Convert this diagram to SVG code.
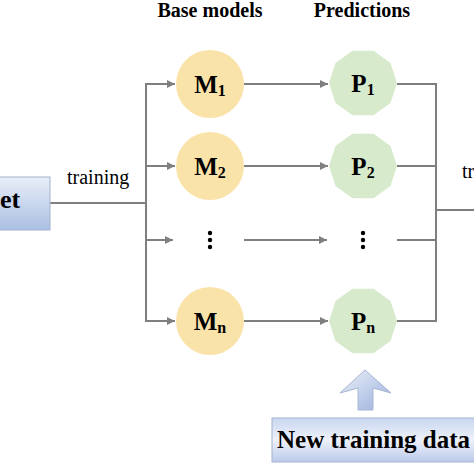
<svg xmlns="http://www.w3.org/2000/svg" width="474" height="474" viewBox="0 0 474 474">
<defs>
<linearGradient id="gBox" x1="0" y1="0" x2="0" y2="1">
<stop offset="0" stop-color="#E9EEF8"/>
<stop offset="1" stop-color="#AABFE4"/>
</linearGradient>
<linearGradient id="gBox2" x1="0" y1="0" x2="0" y2="1">
<stop offset="0" stop-color="#C9D7F0"/>
<stop offset="0.5" stop-color="#EDF1FA"/>
<stop offset="1" stop-color="#BCCBEA"/>
</linearGradient>
<linearGradient id="gArrow" x1="0" y1="0" x2="1" y2="1">
<stop offset="0" stop-color="#EEF2FA"/>
<stop offset="1" stop-color="#97AEDB"/>
</linearGradient>
<marker id="ah" viewBox="0 0 10 10" refX="10" refY="5" markerWidth="4" markerHeight="4" orient="auto" markerUnits="strokeWidth">
<path d="M0,0 L10,5 L0,10 Z" fill="#7F7F7F"/>
</marker>
<style>
.ln{stroke:#7F7F7F;stroke-width:2;fill:none}
.arr{marker-end:url(#ah)}
.m{fill:#FAE3A9}
.p{fill:#D7EACB}
.hd{font-family:"Liberation Serif","Times New Roman",serif;font-weight:bold;font-size:20px;fill:#000}
.lb{font-family:"Liberation Serif","Times New Roman",serif;font-weight:bold;font-size:25px;fill:#000}
.sb{font-size:16px}
.rg{font-family:"Liberation Serif","Times New Roman",serif;font-size:20px;fill:#000}
.dot{fill:#000}
</style>
</defs>
<rect width="474" height="474" fill="#FFFFFF"/>

<g id="headers">
<text class="hd" x="210" y="17" text-anchor="middle">Base models</text>
<text class="hd" x="362" y="17" text-anchor="middle">Predictions</text>
</g>

<g id="connectors">
<line class="ln" x1="50" y1="203" x2="146" y2="203"/>
<line class="ln" x1="146" y1="83" x2="146" y2="322"/>
<line class="ln arr" x1="145" y1="84" x2="175" y2="84"/>
<line class="ln arr" x1="145" y1="166" x2="175" y2="166"/>
<line class="ln arr" x1="145" y1="240" x2="173" y2="240"/>
<line class="ln arr" x1="145" y1="321" x2="175" y2="321"/>
<line class="ln arr" x1="244" y1="84" x2="328" y2="84"/>
<line class="ln arr" x1="244" y1="166" x2="328" y2="166"/>
<line class="ln arr" x1="244" y1="240" x2="327" y2="240"/>
<line class="ln arr" x1="244" y1="321" x2="328" y2="321"/>
<line class="ln" x1="397" y1="84" x2="437" y2="84"/>
<line class="ln" x1="397" y1="166" x2="437" y2="166"/>
<line class="ln" x1="397" y1="240" x2="437" y2="240"/>
<line class="ln" x1="397" y1="321" x2="437" y2="321"/>
<line class="ln" x1="436" y1="83" x2="436" y2="322"/>
<line class="ln" x1="436" y1="210" x2="474" y2="210"/>
</g>

<g id="dataset">
<rect x="-10" y="177" width="60" height="53" fill="url(#gBox)" stroke="#A3B3CF" stroke-width="1"/>
<text class="lb" x="0" y="208" style="font-size:26px">et</text>
</g>
<text class="rg" x="67" y="184">training</text>
<text class="rg" x="462" y="178">tr</text>

<g id="M1"><circle class="m" cx="210" cy="84" r="34"/><text class="lb" x="210" y="93" text-anchor="middle">M<tspan class="sb" dy="3">1</tspan></text></g>
<g id="M2"><circle class="m" cx="210" cy="166" r="34"/><text class="lb" x="210" y="175" text-anchor="middle">M<tspan class="sb" dy="3">2</tspan></text></g>
<g id="Mdots"><circle class="dot" cx="210" cy="233" r="2.2"/><circle class="dot" cx="210" cy="240" r="2.2"/><circle class="dot" cx="210" cy="247" r="2.2"/></g>
<g id="Mn"><circle class="m" cx="210" cy="321" r="34"/><text class="lb" x="210" y="330" text-anchor="middle">M<tspan class="sb" dy="3">n</tspan></text></g>

<g id="P1"><polygon class="p" points="397,84 390.5,64 373.5,51.7 352.5,51.7 335.5,64 329,84 335.5,104 352.5,116.3 373.5,116.3 390.5,104" transform="translate(0,-1)"/><text class="lb" x="363" y="92" text-anchor="middle">P<tspan class="sb" dy="3">1</tspan></text></g>
<g id="P2"><polygon class="p" points="397,166 390.5,146 373.5,133.7 352.5,133.7 335.5,146 329,166 335.5,186 352.5,198.3 373.5,198.3 390.5,186"/><text class="lb" x="363" y="175" text-anchor="middle">P<tspan class="sb" dy="3">2</tspan></text></g>
<g id="Pdots"><circle class="dot" cx="363" cy="233" r="2.2"/><circle class="dot" cx="363" cy="240" r="2.2"/><circle class="dot" cx="363" cy="247" r="2.2"/></g>
<g id="Pn"><polygon class="p" points="397,321 390.5,301 373.5,288.7 352.5,288.7 335.5,301 329,321 335.5,341 352.5,353.3 373.5,353.3 390.5,341"/><text class="lb" x="363" y="330" text-anchor="middle">P<tspan class="sb" dy="3">n</tspan></text></g>

<g id="uparrow">
<polygon points="365,370 391,393 373,388 373,410 358,410 358,388 340,393" fill="url(#gArrow)" stroke="#A7B7D3" stroke-width="1"/>
</g>
<g id="newdata">
<rect x="272" y="418" width="210" height="44" fill="url(#gBox2)" stroke="#A3B3CF" stroke-width="1"/>
<text class="lb" x="277" y="448">New training data</text>
</g>
</svg>
